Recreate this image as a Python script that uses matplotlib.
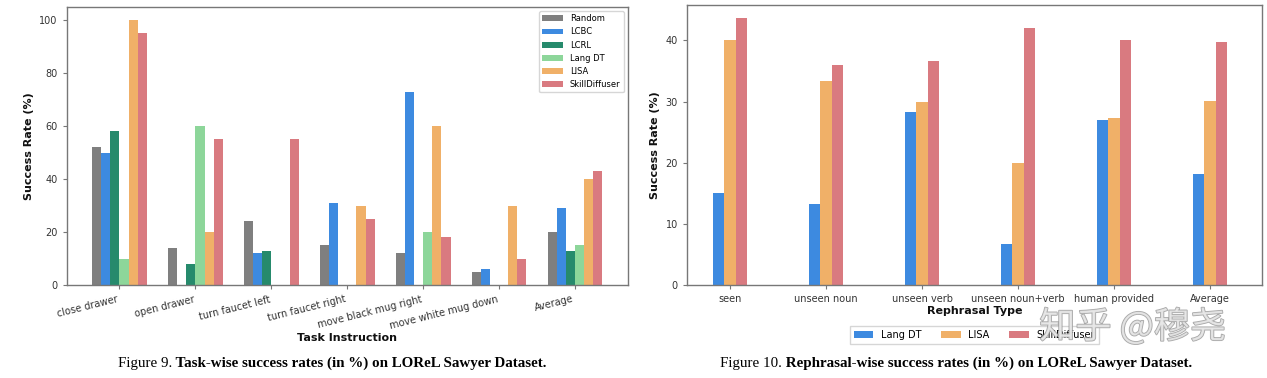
import matplotlib.pyplot as plt
import matplotlib.patheffects as pe
import numpy as np

# Figure 9 data (task-wise)
tasks = ['close drawer', 'open drawer', 'turn faucet left', 'turn faucet right',
         'move black mug right', 'move white mug down', 'Average']
methods = ['Random', 'LCBC', 'LCRL', 'Lang DT', 'LISA', 'SkillDiffuser']
random_sr = [52, 14, 24, 15, 12, 5, 20]
lcbc_sr = [50, 0, 12, 31, 73, 6, 29]
lcrl_sr = [58, 8, 13, 0, 0, 0, 13]
langdt_sr = [10, 60, 0, 0, 20, 0, 15]
lisa_sr = [100, 20, 0, 30, 60, 30, 40]
skill_sr = [95, 55, 55, 25, 18, 10, 43]

# Figure 10 data (rephrasal-wise)
rephrasals = ['seen', 'unseen noun', 'unseen verb', 'unseen noun+verb',
              'human provided', 'Average']
methods2 = ['Lang DT', 'LISA', 'SkillDiffuser']
langdt_r = [15.0, 13.3, 28.3, 6.7, 27.0, 18.1]
lisa_r = [40.0, 33.3, 30.0, 20.0, 27.3, 30.1]
skill_r = [43.6, 36.0, 36.7, 42.0, 40.1, 39.7]

c_gray = '#7f7f7f'
c_blue = '#3d8ae0'
c_dgreen = '#268a6c'
c_lgreen = '#8dd69a'
c_orange = '#f0b068'
c_red = '#d97a80'

plt.rcParams['font.family'] = ['DejaVu Sans']
spine_c = '#777777'
text_c = '#333333'

fig = plt.figure(figsize=(12.67, 3.78), dpi=100)
ax1 = fig.add_axes([0.0526, 0.246, 0.443, 0.736])
ax2 = fig.add_axes([0.5422, 0.246, 0.4538, 0.7407])

w = 0.12
x = np.arange(len(tasks))
series1 = [random_sr, lcbc_sr, lcrl_sr, langdt_sr, lisa_sr, skill_sr]
colors1 = [c_gray, c_blue, c_dgreen, c_lgreen, c_orange, c_red]
for i, (vals, name, col) in enumerate(zip(series1, methods, colors1)):
    ax1.bar(x + (i - 2.5) * w, vals, w, color=col, label=name)
ax1.set_xticks(x)
ax1.set_xticklabels(tasks, rotation=14, ha='right')
ax1.set_ylabel('Success Rate (%)', fontsize=8, fontweight='bold')
ax1.set_xlabel('Task Instruction', fontsize=8, fontweight='bold')
ax1.xaxis.set_label_coords(0.5, -0.172)
ax1.legend(loc='upper right', fontsize=6, handlelength=2.5)

x2 = np.arange(len(rephrasals))
series2 = [langdt_r, lisa_r, skill_r]
colors2 = [c_blue, c_orange, c_red]
for i, (vals, name, col) in enumerate(zip(series2, methods2, colors2)):
    ax2.bar(x2 + (i - 1) * w, vals, w, color=col, label=name)
ax2.set_xticks(x2)
ax2.set_xticklabels(rephrasals)
ax2.set_xlim(-0.448, 5.54)
ax2.set_ylabel('Success Rate (%)', fontsize=8, fontweight='bold')
ax2.set_xlabel('Rephrasal Type', fontsize=8, fontweight='bold')
ax2.xaxis.set_label_coords(0.5, -0.075)
ax2.legend(loc='upper center', bbox_to_anchor=(0.5, -0.13), ncol=3,
           fontsize=7, fancybox=False, columnspacing=2.0)

for ax in (ax1, ax2):
    for s in ax.spines.values():
        s.set_color(spine_c)
        s.set_linewidth(1.0)
    ax.tick_params(labelsize=7, colors=text_c, length=3)
    ax.tick_params(color=spine_c)
    ax.xaxis.label.set_color('#111111')
    ax.yaxis.label.set_color('#111111')

# captions
cap_font = ['Liberation Serif', 'DejaVu Serif']
t1 = fig.text(0.093, 0.03, 'Figure 9.', fontsize=10.8, family=cap_font, va='baseline')
ax1.annotate(' Task-wise success rates (in %) on LOReL Sawyer Dataset.', xy=(1, 0),
             xycoords=t1, va='bottom', ha='left', fontsize=10.8, family=cap_font,
             fontweight='bold', annotation_clip=False)
t2 = fig.text(0.568, 0.03, 'Figure 10.', fontsize=10.8, family=cap_font, va='baseline')
ax2.annotate(' Rephrasal-wise success rates (in %) on LOReL Sawyer Dataset.', xy=(1, 0),
             xycoords=t2, va='bottom', ha='left', fontsize=10.8, family=cap_font,
             fontweight='bold', annotation_clip=False)

# watermark
fig.text(0.894, 0.135, '知乎 @穆尧', fontsize=26, family=['Noto Sans CJK SC', 'DejaVu Sans'],
         color='#e8e8e8', alpha=0.85, ha='center', va='center',
         path_effects=[pe.withStroke(linewidth=1.2, foreground='#999999')])

fig.savefig('out.png', dpi=100)
